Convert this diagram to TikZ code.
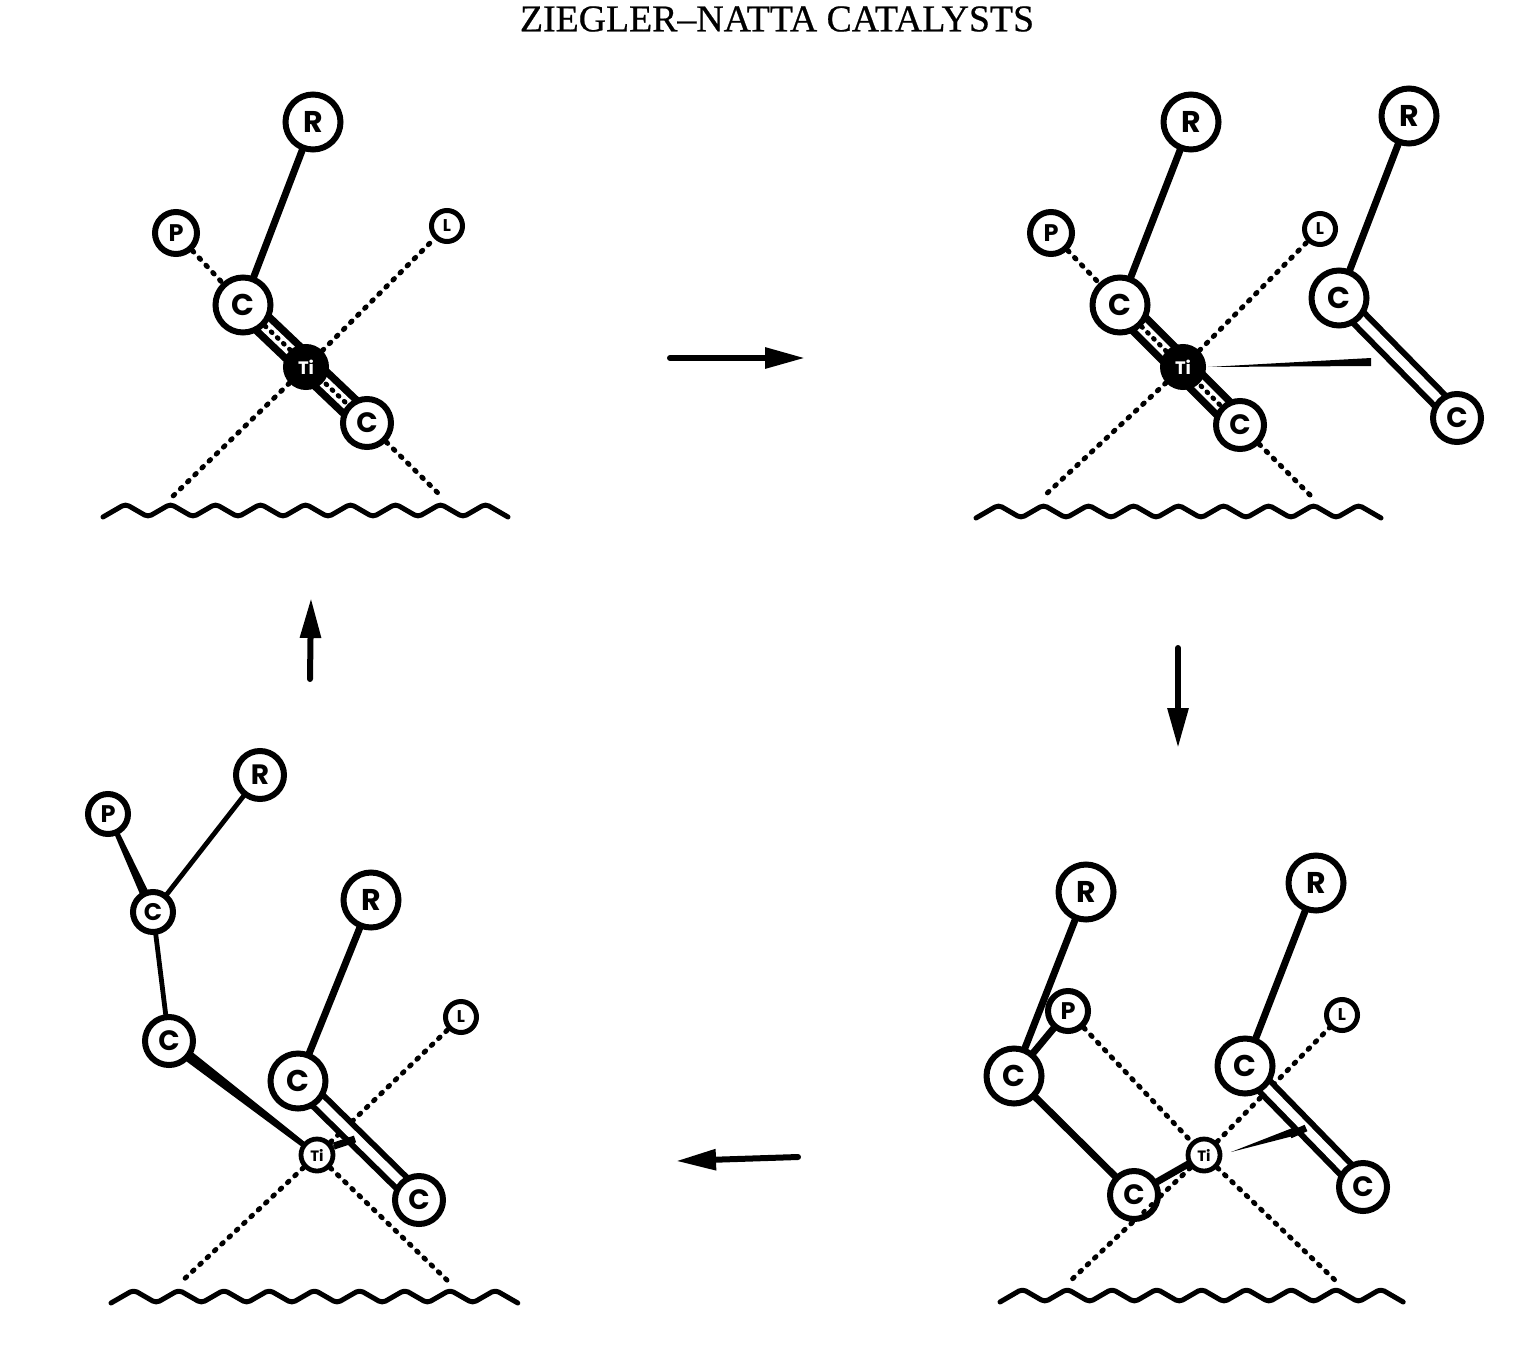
\documentclass[tikz,border=0pt]{standalone}
\usepackage{fontspec}
\setmainfont{Liberation Serif}
\newfontfamily\atomfont{Poppins}
\newfontfamily\titlefont[FakeBold=0.6]{Liberation Serif}
\usetikzlibrary{arrows.meta,backgrounds,calc}
\tikzset{
  atombase/.style={circle,draw=black,fill=white,line width=3pt,inner sep=0pt,font=\atomfont\bfseries},
  atomXL/.style={atombase,minimum size=27.5pt,font=\atomfont\bfseries\fontsize{15}{15}\selectfont},
  atomL/.style={atombase,minimum size=24pt,font=\atomfont\bfseries\fontsize{14}{14}\selectfont},
  atomM/.style={atombase,minimum size=21pt,font=\atomfont\bfseries\fontsize{12}{12}\selectfont},
  atomP/.style={atombase,minimum size=20pt,font=\atomfont\bfseries\fontsize{12}{12}\selectfont},
  atomS/.style={atombase,minimum size=15.5pt,line width=2.5pt,font=\atomfont\bfseries\fontsize{8.5}{8.5}\selectfont},
  atomT/.style={atombase,minimum size=16pt,line width=2.4pt,font=\atomfont\bfseries\fontsize{7.5}{7.5}\selectfont},
  atomD/.style={atombase,minimum size=20pt,fill=black,text=white,font=\atomfont\bfseries\fontsize{9}{9}\selectfont},
  dotbond/.style={line width=2.5pt,line cap=round,dash pattern=on 1pt off 4pt},
  bond/.style={line width=3.5pt},
  thinbond/.style={line width=2.4pt},
  dblouter/.style={line width=10.5pt},
  dblinner/.style={line width=4.5pt,white},
  pibouter/.style={line width=13pt},
  pibinner/.style={line width=5.5pt,white},
  pibdots/.style={line width=2.4pt,line cap=round,dash pattern=on 0.6pt off 3.6pt},
  surface/.style={line width=2.5pt,line join=round,line cap=round,rounded corners=2pt},
  rarrow/.style={line width=3pt,line cap=round,-{Triangle[length=20pt,width=10pt]}}
}
\begin{document}
\begin{tikzpicture}[x=0.5pt,y=-0.5pt]
\useasboundingbox (0,0) rectangle (1529,1358);
\node[font=\titlefont\fontsize{18.9}{20}\selectfont,inner sep=0pt] (title) at (777,19) {ZIEGLER–NATTA CATALYSTS};

% panel 1
\node[atomXL] (aR) at (313,122) {R};
\node[atomM] (aP) at (176,233) {P};
\node[atomXL] (aC1) at (243,305) {C};
\node[atomS] (aL) at (447,226) {L};
\node[atomD] (aTi) at (306,367) {Ti};
\node[atomL] (aC2) at (367,423) {C};
\coordinate (aW1) at (103,517);
\coordinate (aF1) at (172,497); \coordinate (aF2) at (442,497);

% panel 2
\node[atomXL] (bR) at (1191,122) {R};
\node[atomM] (bP) at (1051,233) {P};
\node[atomXL] (bC1) at (1120,305) {C};
\node[atomS] (bL) at (1320,229) {L};
\node[atomD] (bTi) at (1183,367) {Ti};
\node[atomL] (bC2) at (1240,425) {C};
\node[atomXL] (bR2) at (1409,116) {R};
\node[atomXL] (bC3) at (1339,298) {C};
\node[atomL] (bC4) at (1457,418) {C};
\coordinate (bW1) at (976,518);
\coordinate (bF1) at (1043,497); \coordinate (bF2) at (1312,497);
\coordinate (bB1) at (1208,367); \coordinate (bB2) at (1371,362);

% panel 3
\node[atomXL] (cR1) at (1086,892) {R};
\node[atomXL] (cR2) at (1316,883) {R};
\node[atomP] (cP) at (1068,1011) {P};
\node[atomXL] (cC1) at (1014,1076) {C};
\node[atomL] (cC2) at (1134,1195) {C};
\node[atomT] (cTi) at (1204,1155) {Ti};
\node[atomXL] (cC3) at (1245,1066) {C};
\node[atomS] (cL) at (1342,1015) {L};
\node[atomL] (cC4) at (1363,1187) {C};
\coordinate (cW1) at (1000,1302);
\coordinate (cF1) at (1068,1283); \coordinate (cF2) at (1338,1283);
\coordinate (cB1) at (1231,1152); \coordinate (cB2) at (1296,1131);
\coordinate (cK1) at (1290,1135); \coordinate (cK2) at (1306,1128);
\coordinate (cD1) at (1152,1204); \coordinate (cD2) at (1138,1217);

% panel 4
\node[atomP] (dP) at (108,814) {P};
\node[atomL] (dR1) at (260,775) {R};
\node[atomP] (dC1) at (153,912) {C};
\node[atomL] (dC2) at (169,1041) {C};
\node[atomXL] (dR2) at (371,900) {R};
\node[atomXL] (dC3) at (298,1081) {C};
\node[atomS] (dL) at (461,1017) {L};
\node[atomT] (dTi) at (317,1155) {Ti};
\node[atomL] (dC4) at (419,1200) {C};
\coordinate (dW1) at (111,1303);
\coordinate (dF1) at (180,1283); \coordinate (dF2) at (450,1283);
\coordinate (dK1) at (334,1146); \coordinate (dK2) at (355,1139);

% reaction arrows
\coordinate (ar1a) at (670,358); \coordinate (ar1b) at (805,358);
\coordinate (ar2a) at (1178,648); \coordinate (ar2b) at (1178,748);
\coordinate (ar3a) at (798,1157); \coordinate (ar3b) at (676,1161);
\coordinate (ar4a) at (310,679); \coordinate (ar4b) at (311,598);
\draw[rarrow] (ar1a) -- (ar1b);
\draw[rarrow] (ar2a) -- (ar2b);
\draw[rarrow] (ar3a) -- (ar3b);
\draw[rarrow] (ar4a) -- (ar4b);

% surfaces
\draw[surface] (aW1) foreach \i in {1,...,9} { -- ++(22.5,-13) -- ++(22.5,13) } ;
\draw[surface] (bW1) foreach \i in {1,...,9} { -- ++(22.5,-13) -- ++(22.5,13) } ;
\draw[surface] (cW1) foreach \i in {1,...,9} { -- ++(22.4,-13) -- ++(22.4,13) } ;
\draw[surface] (dW1) foreach \i in {1,...,9} { -- ++(22.6,-13) -- ++(22.6,13) } ;

% dots that print across the carbon in panel 3
\draw[dotbond,line width=2pt] (cD1) -- (cD2);

\begin{scope}[on background layer]
  % panel 1
  \draw[bond] (aR.center) -- (aC1.center);
  \draw[dotbond] (aP) -- (aC1);
  \draw[dotbond] (aTi) -- (aL);
  \draw[dotbond] (aTi) -- (aF1);
  \draw[dotbond] (aC2) -- (aF2);
  \draw[pibouter] (aC1.center) -- (aC2.center);
  \draw[pibinner] (aC1.center) -- (aC2.center);
  \draw[pibdots] (aC1) -- (aC2);
  % panel 2
  \draw[bond] (bR.center) -- (bC1.center);
  \draw[dotbond] (bP) -- (bC1);
  \draw[dotbond] (bTi) -- (bL);
  \draw[dotbond] (bTi) -- (bF1);
  \draw[dotbond] (bC2) -- (bF2);
  \draw[pibouter] (bC1.center) -- (bC2.center);
  \draw[pibinner] (bC1.center) -- (bC2.center);
  \draw[pibdots] (bC1) -- (bC2);
  \draw[bond] (bR2.center) -- (bC3.center);
  \draw[dblouter] (bC3.center) -- (bC4.center);
  \draw[dblinner] (bC3.center) -- (bC4.center);
  \fill (bB1) -- ($(bB2)+(0,-4)$) -- ($(bB2)+(0,4)$) -- cycle;
  % panel 3
  \draw[bond] (cR1.center) -- (cC1.center);
  \draw[bond] (cP.center) -- (cC1.center);
  \draw[bond] (cC1.center) -- (cC2.center);
  \draw[bond] (cC2.center) -- (cTi.center);
  \draw[dotbond] (cP) -- (cTi);
  \draw[dotbond] (cTi) -- (cL);
  \draw[dotbond] (cTi) -- (cF1);
  \draw[dotbond] (cTi) -- (cF2);
  \draw[bond] (cR2.center) -- (cC3.center);
  \draw[dblouter] (cC3.center) -- (cC4.center);
  \draw[dblinner] (cC3.center) -- (cC4.center);
  \fill (cB1) -- ($(cB2)+(-1,-4)$) -- ($(cB2)+(1,4)$) -- cycle;
  \draw[bond] (cK1) -- (cK2);
  % panel 4
  \fill ($(dP.center)+(1.8,-.8)$) -- ($(dC1.center)+(4.5,-2.1)$) -- ($(dC1.center)+(-4.5,2.1)$) -- ($(dP.center)+(-1.8,.8)$) -- cycle;
  \draw[thinbond] (dR1.center) -- (dC1.center);
  \draw[thinbond] (dC1.center) -- (dC2.center);
  \fill ($(dC2.center)+(3.7,-4.7)$) -- ($(dTi.center)+(1.5,-2)$) -- ($(dTi.center)+(-1.5,2)$) -- ($(dC2.center)+(-3.7,4.7)$) -- cycle;
  \draw[bond] (dR2.center) -- (dC3.center);
  \draw[dotbond] (dTi) -- (dL);
  \draw[dotbond] (dTi) -- (dF1);
  \draw[dotbond] (dTi) -- (dF2);
  \draw[dblouter] (dC3.center) -- (dC4.center);
  \draw[dblinner] (dC3.center) -- (dC4.center);
  \draw[bond] (dTi) -- (dK1);
  \draw[bond] (dK1) -- (dK2);
\end{scope}
\end{tikzpicture}
\end{document}
